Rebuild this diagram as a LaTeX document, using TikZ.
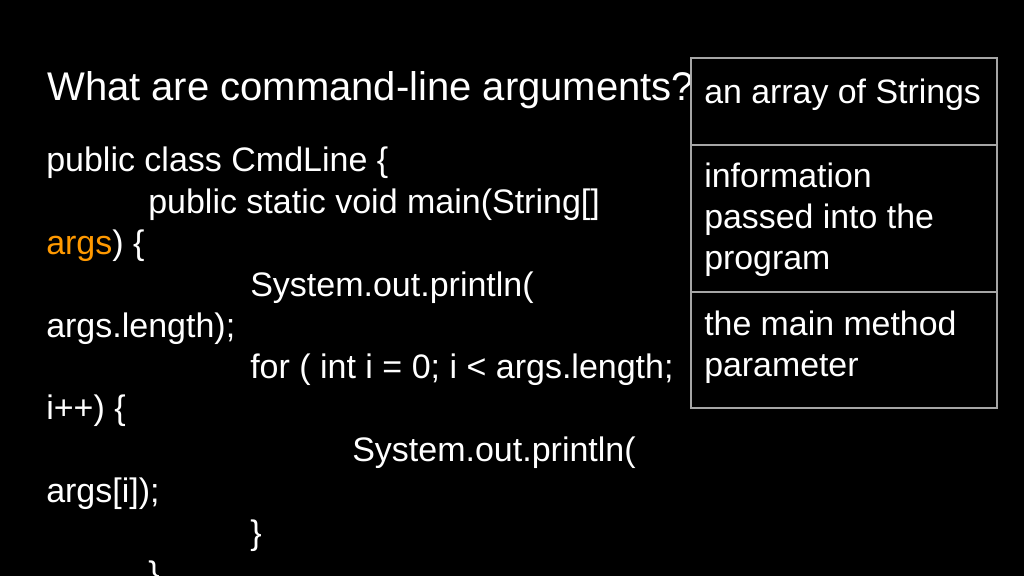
\documentclass[tikz,border=0pt]{standalone}
\usepackage{fontspec}
\setmainfont{Liberation Sans}
\definecolor{argorange}{RGB}{255,153,0}
\tikzset{
  codeline/.style={anchor=base west, inner sep=0pt, text=white, font=\fontsize{25.5}{30}\selectfont},
  cell/.style={draw=gray!70, fill=black, line width=0.8pt},
  celltext/.style={anchor=base west, inner sep=0pt, text=white, font=\fontsize{25.4}{30}\selectfont}
}
\begin{document}
\begin{tikzpicture}[x=0.75pt,y=-0.75pt]
\useasboundingbox[fill=black] (0,0) rectangle (1024,576);

%title
\node[anchor=base west, inner sep=0pt, text=white, font=\fontsize{30}{36}\selectfont] (title) at (47,100) {What are command-line arguments?};

%code
\node[codeline] (l1) at (46,171) {public class CmdLine \{};
\node[codeline] (l2) at (148,213) {public static void main(String[]};
\node[codeline] (l3) at (46,254) {\textcolor{argorange}{args}) \{};
\node[codeline] (l4) at (250,296) {System.out.println(};
\node[codeline] (l5) at (46,337) {args.length);};
\node[codeline] (l6) at (250,378) {for ( int i = 0; i < args.length;};
\node[codeline] (l7) at (46,419) {i++) \{};
\node[codeline] (l8) at (352,461) {System.out.println(};
\node[codeline] (l9) at (46,502) {args[i]);};
\node[codeline] (l10) at (250,544) {\}};
\node[codeline] (l11) at (148,585) {\}};

%table
\draw[cell] (691,58) rectangle (997,145);
\draw[cell] (691,145) rectangle (997,292);
\draw[cell] (691,292) rectangle (997,408);
\node[celltext] (c1) at (704,103) {an array of Strings};
\node[celltext] (c2a) at (704,187) {information};
\node[celltext] (c2b) at (704,228) {passed into the};
\node[celltext] (c2c) at (704,269) {program};
\node[celltext] (c3a) at (704,335) {the main method};
\node[celltext] (c3b) at (704,376) {parameter};

\end{tikzpicture}
\end{document}
